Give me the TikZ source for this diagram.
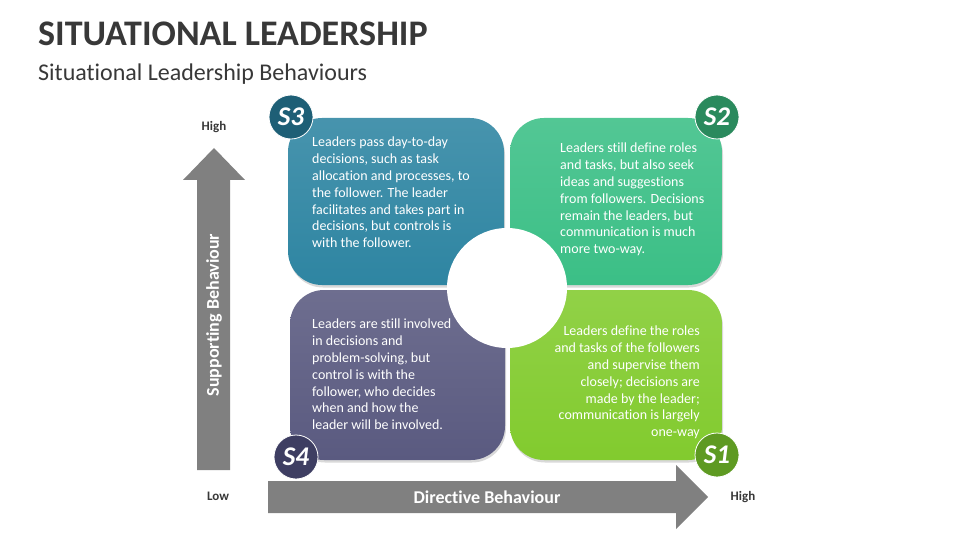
\documentclass[tikz,border=0pt]{standalone}
\usepackage{fontspec}
\setmainfont{Carlito}[Ligatures=NoCommon]
\usetikzlibrary{positioning,shadows}

\definecolor{titlegray}{HTML}{383838}
\definecolor{arrowgray}{HTML}{808080}
\definecolor{quadthree}{HTML}{2E85A2}
\definecolor{quadtwo}{HTML}{3BBF86}
\definecolor{quadfour}{HTML}{5A5A80}
\definecolor{quadone}{HTML}{82CB2E}
\definecolor{badgethree}{HTML}{1E5F76}
\definecolor{badgetwo}{HTML}{2A8A5D}
\definecolor{badgefour}{HTML}{3E3E62}
\definecolor{badgeone}{HTML}{5E9A22}

\tikzset{
  quad/.style={rounded corners=34pt, drop shadow={opacity=0.3, shadow xshift=1pt, shadow yshift=-2.5pt}},
  badge/.style={circle, minimum size=44pt, inner sep=0pt, draw=white, line width=0.8pt,
    text=white, font=\fontsize{27}{27}\selectfont\bfseries\itshape},
  desc/.style={text=white, inner sep=0pt, font=\fontsize{14}{16.8}\selectfont},
  endlbl/.style={text=titlegray, inner sep=0pt, font=\fontsize{13}{15}\selectfont\bfseries},
  axislbl/.style={text=white, inner sep=0pt, font=\fontsize{18}{20}\selectfont\bfseries}
}

\begin{document}
\begin{tikzpicture}[x=1pt, y=-1pt]
\useasboundingbox (0,0) rectangle (960,540);

\node[anchor=base west, inner sep=0pt, text=titlegray, font=\fontsize{36}{40}\selectfont\bfseries] (title) at (38,46) {SITUATIONAL LEADERSHIP};
\node[anchor=base west, inner sep=0pt, text=titlegray, font=\fontsize{24}{28}\selectfont] (subtitle) at (38,81) {Situational Leadership Behaviours};

\path[quad, top color=quadthree!88!white, bottom color=quadthree] (288,118) rectangle (504,285);
\path[quad, top color=quadtwo!88!white, bottom color=quadtwo] (510,118) rectangle (722,285);
\path[quad, top color=quadfour!88!white, bottom color=quadfour] (290,290) rectangle (505,460);
\path[quad, top color=quadone!88!white, bottom color=quadone] (510,290) rectangle (722,460);
\fill[white] (507,288) circle (60);

\node[desc, anchor=north west, align=left] (textthree) at (312,137) {Leaders pass day-to-day\\decisions, such as task\\allocation and processes, to\\the follower. The leader\\facilitates and takes part in\\decisions, but controls is\\with the follower.};
\node[desc, anchor=north west, align=left] (texttwo) at (560,143) {Leaders still define roles\\and tasks, but also seek\\ideas and suggestions\\from followers. Decisions\\remain the leaders, but\\communication is much\\more two-way.};
\node[desc, anchor=north west, align=left] (textfour) at (312,319) {Leaders are still involved\\in decisions and\\problem-solving, but\\control is with the\\follower, who decides\\when and how the\\leader will be involved.};
\node[desc, anchor=north east, align=right] (textone) at (700,326) {Leaders define the roles\\and tasks of the followers\\and supervise them\\closely; decisions are\\made by the leader;\\communication is largely\\one-way};

\node[badge, fill=badgethree] (sthree) at (291,117) {S3};
\node[badge, fill=badgetwo] (stwo) at (717,117) {S2};
\node[badge, fill=badgefour] (sfour) at (296,457) {S4};
\node[badge, fill=badgeone] (sone) at (717,455) {S1};

\fill[arrowgray] (197,470) -- (197,180) -- (183,180) -- (214,148) -- (245,180) -- (230,180) -- (230,470) -- cycle;
\fill[arrowgray] (268,481) -- (676,481) -- (676,465) -- (708,497) -- (676,529) -- (676,513) -- (268,513) -- cycle;

\node[axislbl, rotate=90] (supporting) at (214,315) {Supporting Behaviour};
\node[axislbl] (directive) at (487,497) {Directive Behaviour};

\node[endlbl] (highy) at (214,127) {High};
\node[endlbl] (lowy) at (218,496) {Low};
\node[endlbl] (highx) at (743,497) {High};
\end{tikzpicture}
\end{document}
